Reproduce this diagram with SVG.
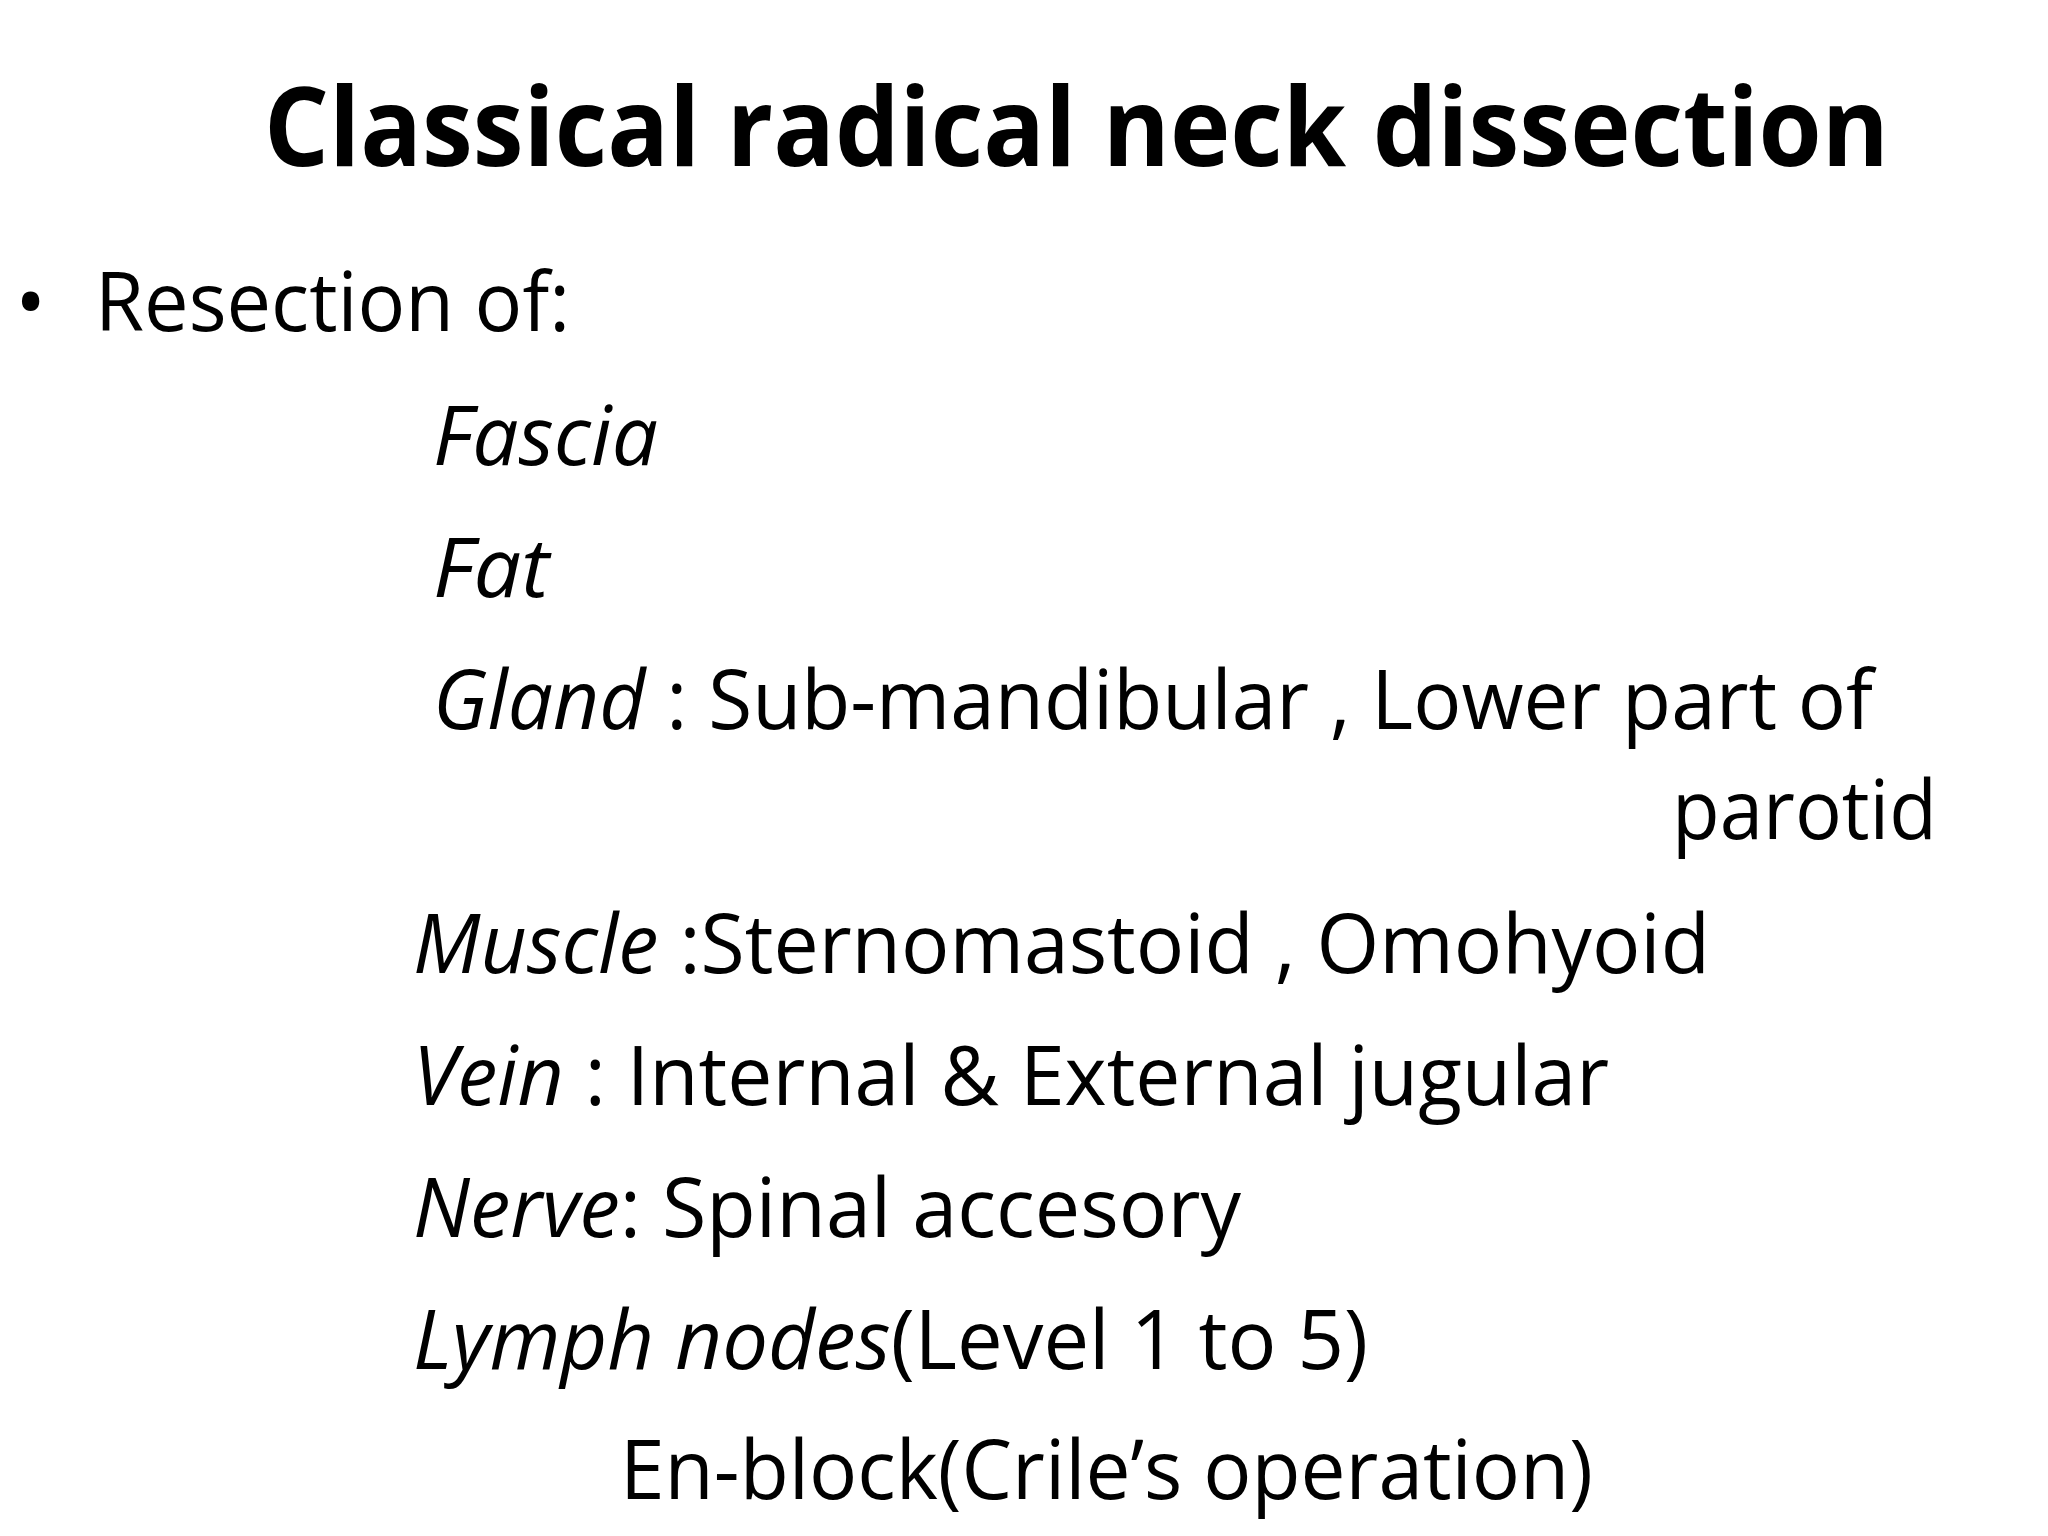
<svg xmlns="http://www.w3.org/2000/svg" width="2048" height="1536" viewBox="0 0 2048 1536">
<style>
text{font-family:"Open Sans","Liberation Sans",sans-serif;fill:#000}
.t{font-size:110px;font-weight:bold}
.b{font-size:83px}
.i{font-style:italic}
</style>
<rect width="2048" height="1536" fill="#fff"/>
<g transform="translate(-7,-6)">
<text class="t" x="271" y="172" textLength="1625" lengthAdjust="spacingAndGlyphs">Classical radical neck dissection</text>
<text class="b" x="22" y="337">•</text>
<text class="b" x="102" y="337" textLength="475" lengthAdjust="spacingAndGlyphs">Resection of:</text>
<text class="b i" x="440" y="471" textLength="225" lengthAdjust="spacingAndGlyphs">Fascia</text>
<text class="b i" x="440" y="603" textLength="116" lengthAdjust="spacingAndGlyphs">Fat</text>
<text class="b" x="440" y="735" textLength="1440" lengthAdjust="spacingAndGlyphs"><tspan class="i">Gland</tspan> : Sub-mandibular , Lower part of</text>
<text class="b" x="1679" y="845" textLength="265" lengthAdjust="spacingAndGlyphs">parotid</text>
<text class="b" x="420" y="979" textLength="1297" lengthAdjust="spacingAndGlyphs"><tspan class="i">Muscle</tspan> :Sternomastoid , Omohyoid</text>
<text class="b" x="420" y="1111" textLength="1196" lengthAdjust="spacingAndGlyphs"><tspan class="i">Vein</tspan> : Internal &amp; External jugular</text>
<text class="b" x="420" y="1243" textLength="828" lengthAdjust="spacingAndGlyphs"><tspan class="i">Nerve</tspan>: Spinal accesory</text>
<text class="b" x="420" y="1375" textLength="955" lengthAdjust="spacingAndGlyphs"><tspan class="i">Lymph nodes</tspan>(Level 1 to 5)</text>
<text class="b" x="627" y="1505" textLength="973" lengthAdjust="spacingAndGlyphs">En-block(Crile’s operation)</text>
</g>
</svg>
